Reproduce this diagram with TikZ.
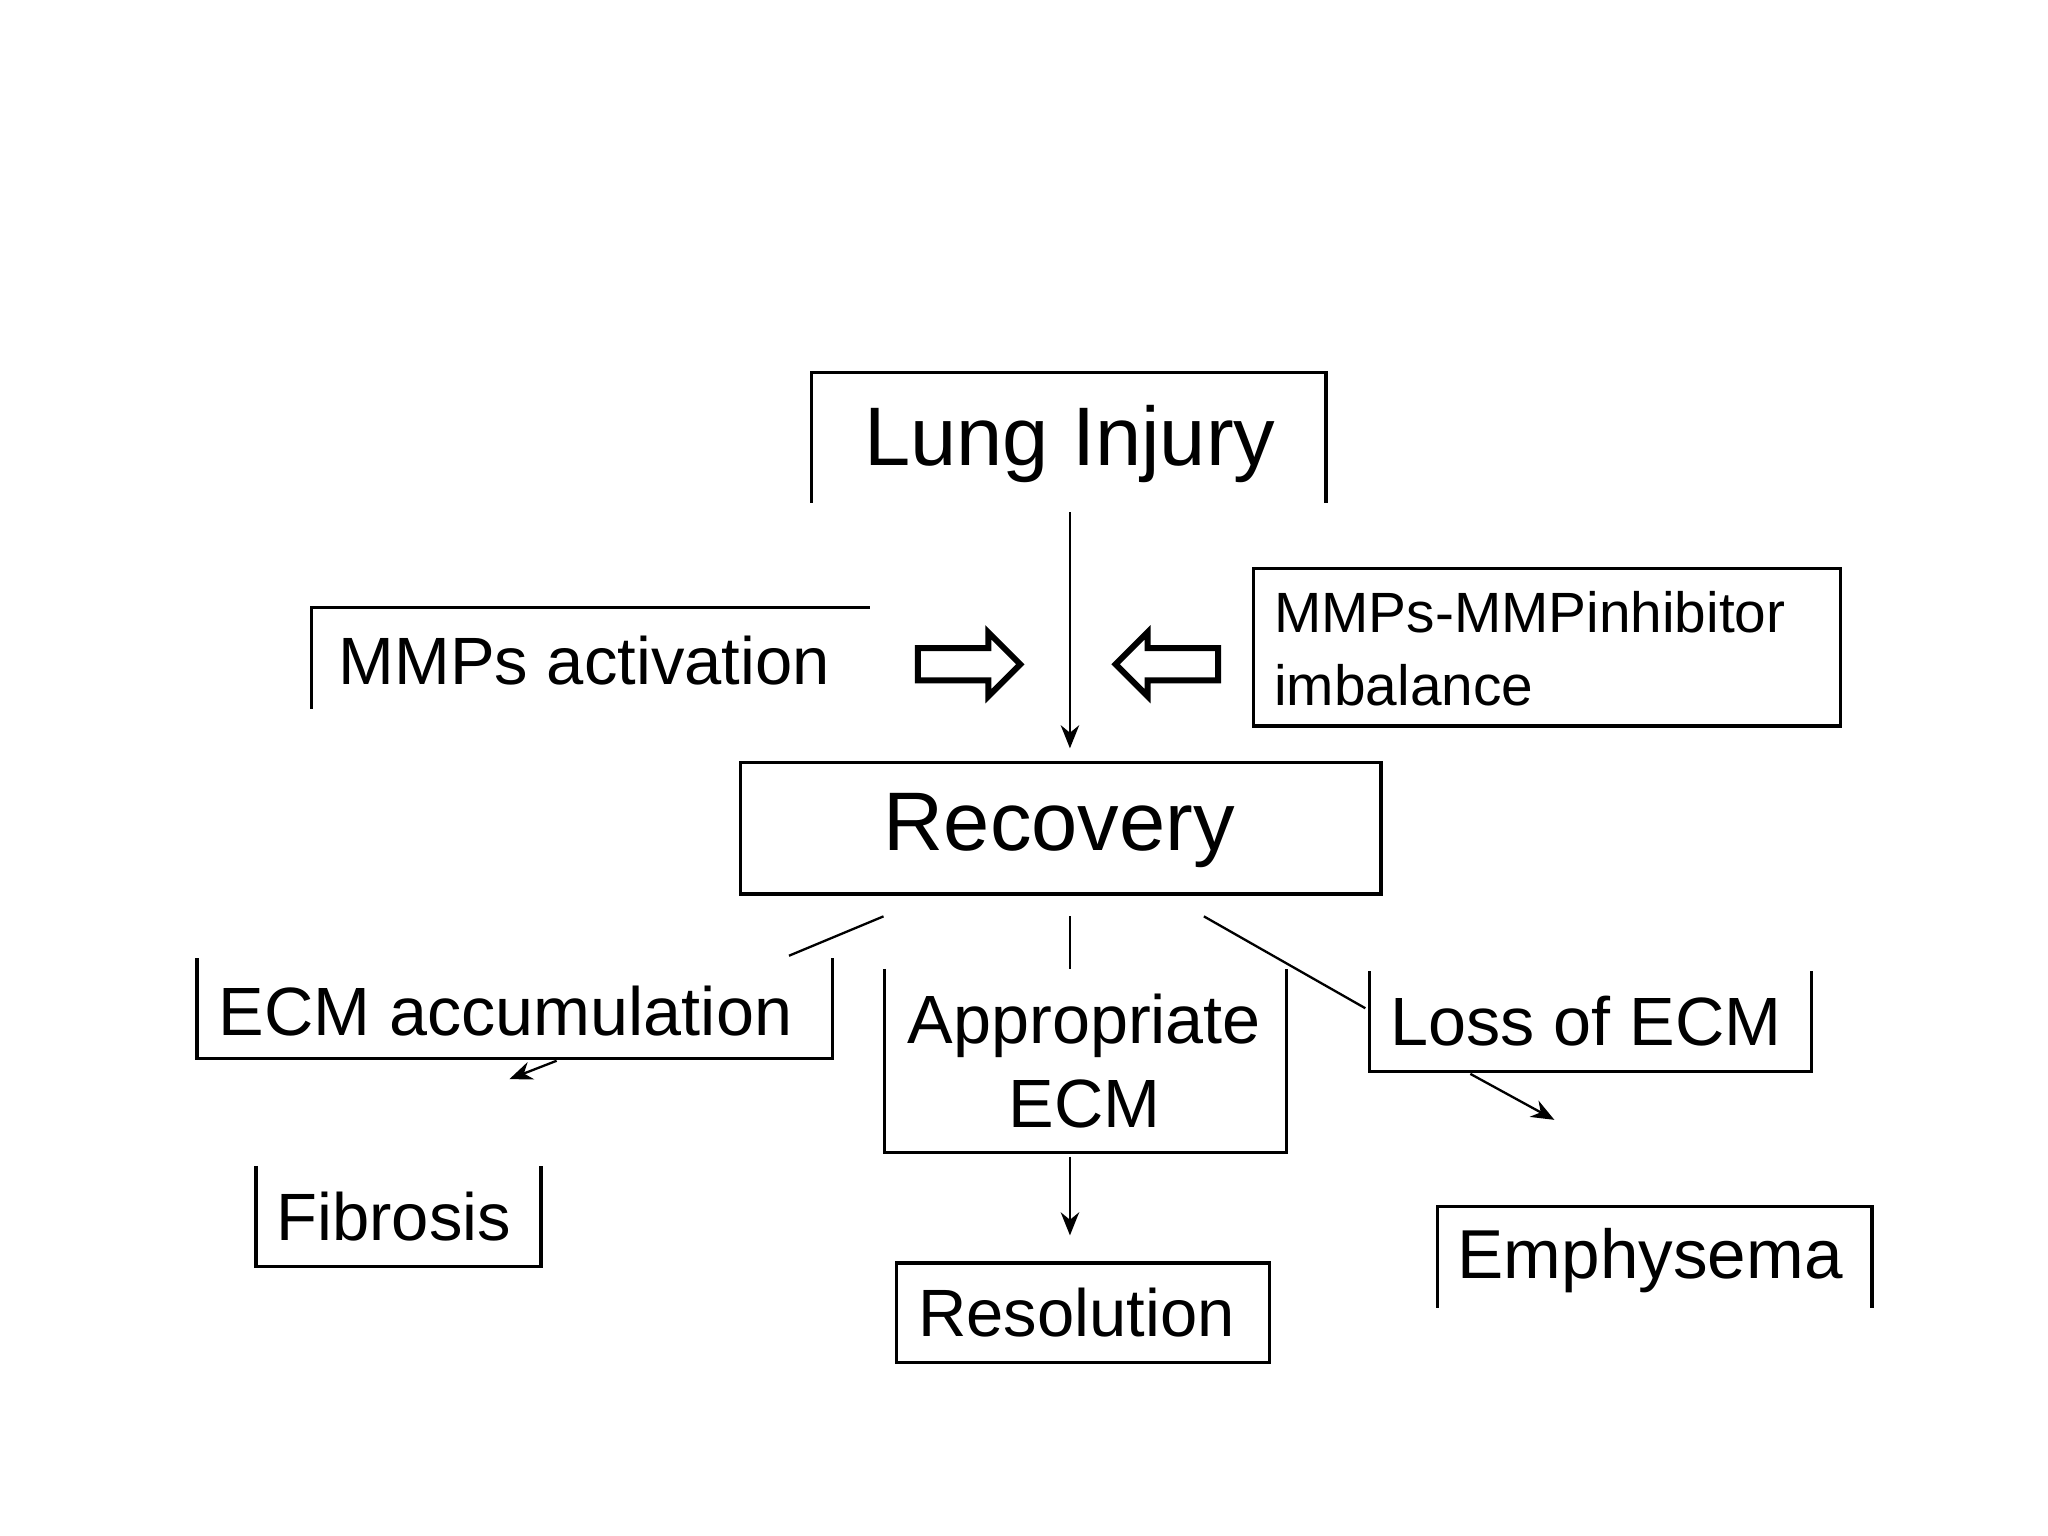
\documentclass[tikz,border=0pt]{standalone}
\usepackage{fontspec}
\setmainfont{Liberation Sans}
\usetikzlibrary{shapes.arrows,arrows.meta}
\begin{document}
\begin{tikzpicture}[x=0.01cm,y=-0.01cm,
  ln/.style={line width=0.7pt},
  con/.style={line width=0.5pt},
  arr/.style={con,-{Stealth[length=5pt,width=4pt]}},
  txt/.style={inner sep=0pt,font=\fontsize{#1}{#1}\selectfont},
  barrow/.style={single arrow,draw,line width=1.3pt,minimum width=0.44cm,minimum height=0.78cm,inner xsep=0pt,inner ysep=0.1cm,single arrow head extend=0.12cm,single arrow tip angle=90}]
\useasboundingbox (0,0) rectangle (1560,1170);
% Lung Injury
\draw[ln] (618,383) -- (618,284) -- (1010,284) -- (1010,383);
\node[txt=18pt] (li) at (815,338) {Lung Injury};
% MMPs activation
\draw[ln] (237,540) -- (237,463) -- (663,463);
\node[txt=14.5pt] (ma) at (445,503) {MMPs activation};
\node[barrow] (ra) at (732,506) {};
\node[barrow,shape border rotate=180] (la) at (895,506) {};
% imbalance
\draw[ln] (955,433) rectangle (1402,553);
\node[txt=12.3pt,align=left,anchor=west] (im) at (970,494) {MMPs-MMPinhibitor\\[0.12cm]imbalance};
% Recovery
\draw[ln] (564,581) rectangle (1052,681);
\node[txt=18pt] (rec) at (807,633) {Recovery};
\coordinate (liB) at (815,390);
\coordinate (recT) at (815,570);
\draw[arr] (liB) -- (recT);
% ECM accumulation
\draw[ln] (150,730) -- (150,806) -- (634,806) -- (634,730);
\node[txt=14.8pt] (ea) at (385,770) {ECM accumulation};
\coordinate (r1) at (673,698); \coordinate (r1e) at (601,728);
\draw[con] (r1) -- (r1e);
\coordinate (ea1) at (424,808); \coordinate (ea2) at (388,822);
\draw[arr] (ea1) -- (ea2);
% Fibrosis
\draw[ln] (195,888) -- (195,965) -- (412,965) -- (412,888);
\node[txt=14.5pt] (fib) at (300,927) {Fibrosis};
% Appropriate ECM
\coordinate (r2) at (815,698); \coordinate (r2e) at (815,738);
\draw[con] (r2) -- (r2e);
\draw[ln] (674,738) -- (674,878) -- (980,878) -- (980,738);
\node[txt=14.8pt,align=center] (ae) at (826,808) {Appropriate\\[0.12cm]ECM};
\coordinate (ae1) at (815,881); \coordinate (ae2) at (815,941);
\draw[arr] (ae1) -- (ae2);
% Resolution
\draw[ln] (683,962) rectangle (967,1038);
\node[txt=14.5pt] (res) at (820,1000) {Resolution};
% Loss of ECM
\coordinate (r3) at (917,698); \coordinate (r3e) at (1040,768);
\draw[con] (r3) -- (r3e);
\draw[ln] (1043,740) -- (1043,816) -- (1380,816) -- (1380,740);
\node[txt=14.8pt] (lo) at (1208,778) {Loss of ECM};
\coordinate (lo1) at (1120,818); \coordinate (lo2) at (1184,853);
\draw[arr] (lo1) -- (lo2);
% Emphysema
\draw[ln] (1095,996) -- (1095,919) -- (1426,919) -- (1426,996);
\node[txt=15pt] (em) at (1257,960) {Emphysema};
\end{tikzpicture}
\end{document}
